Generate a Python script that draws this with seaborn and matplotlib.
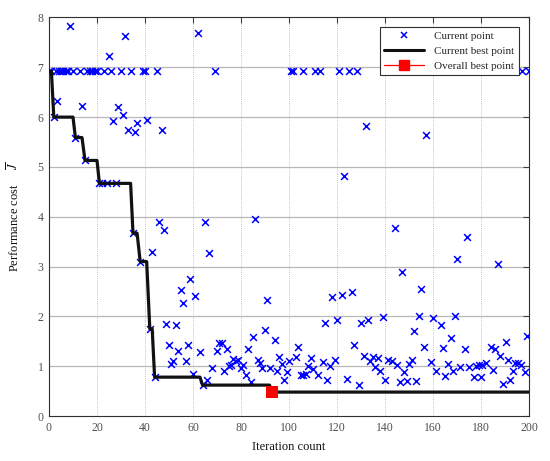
import numpy as np
import pandas as pd
import matplotlib
matplotlib.use("Agg")
import matplotlib.pyplot as plt
from matplotlib.lines import Line2D
import seaborn as sns

# ---- data ----
iteration = [
    0, 1, 2, 3, 3.5, 4, 5, 6, 7, 8, 8.75, 10, 11, 13, 13.75, 15, 16, 17, 18, 19, 20,
    21, 22, 23, 24, 24.8, 26, 26.8, 28, 28.6, 30, 30.7, 31.8, 32.8, 34, 35, 35.8, 36.7,
    38, 39, 40, 40.7, 42, 43, 44, 45, 46, 47, 48,
    48.7, 49.8, 50.9, 51.8, 52.9, 53.8, 55, 55.9, 56.9, 57.8, 58.8, 60, 60.8, 62,
    62.9, 64, 65, 65.9, 66.8, 67.9, 69, 69.9, 70.7, 71.9, 73, 74, 74.8, 75.7, 76.8,
    77.9, 78.9, 80, 81, 82, 83, 84, 85, 85.8, 86.9, 87.9, 88.9, 90, 91, 91.9, 93,
    94, 95, 96, 97, 98, 99, 100, 101, 101.7, 102.9, 103.9, 104.8, 105.8, 106, 107,
    107.9, 109, 110, 111, 112, 113, 114, 115, 116, 117, 117.9, 119.2, 119.9, 121, 122,
    123, 124, 125, 126.1, 127.1, 128.4, 129, 130, 131.1, 132.1, 133, 133.8, 134.8, 136,
    137, 137.9, 139, 140, 141.1, 143, 144.2, 145, 146.2, 146.9, 148.1, 149.1, 150,
    151.1, 152, 153, 154.2, 155, 156.2, 157.1, 159.1, 160, 161.1, 163.2, 164.1, 165.2,
    166.1, 167.3, 168.3, 169.2, 170.2, 171.2, 173.3, 174.2, 175.2, 177.2, 178, 179.1,
    180.2, 180.4, 182.2, 184.2, 185.2, 186, 187.2, 188.1, 189.3, 190.3, 191.3, 192.2,
    193.2, 194.3, 195.6, 196.8, 197, 198.3, 199.2, 200,
]
cost = [
    6.92, 6.92, 6.00, 6.92, 6.32, 6.92, 6.92, 6.92, 6.92, 6.92, 7.82, 6.92, 5.59, 6.92, 6.22, 5.13, 6.92, 6.92, 6.92, 6.92, 6.92,
    4.67, 4.67, 6.92, 4.67, 7.23, 6.92, 5.92, 4.67, 6.21, 6.92, 6.04, 7.62, 5.75, 6.92, 3.67, 5.71, 5.89,
    3.10, 6.92, 6.92, 5.95, 1.75, 3.29, 0.78, 6.92, 3.90, 5.75, 3.74,
    1.85, 1.43, 1.05, 1.10, 1.83, 1.31, 2.53, 2.27, 1.10, 1.43, 2.75, 0.85, 2.41, 7.69,
    1.29, 0.62, 3.89, 0.73, 3.28, 0.97, 6.92, 1.31, 1.47, 1.47, 0.91, 1.34, 1.00, 1.02, 1.14,
    1.11, 1.13, 0.97, 1.02, 0.83, 1.35, 0.68, 1.58, 3.96, 1.13, 1.07, 0.97, 1.72, 2.33, 0.97, 0.48,
    1.53, 0.90, 1.18, 1.05, 0.73, 0.89, 1.10, 6.92, 6.92, 1.19, 1.38, 0.83, 0.82, 6.92, 0.85,
    1.00, 1.16, 0.94, 6.92, 0.82, 6.92, 1.08, 1.86, 0.72, 1.00, 2.39, 1.13, 1.92, 6.92, 2.42,
    4.82, 0.75, 6.92, 2.49, 1.43, 6.92, 0.63, 1.87, 1.20, 5.83, 1.93, 1.11, 1.18, 0.98,
    1.17, 0.90, 1.98, 0.73, 1.13, 1.11, 3.77, 1.03, 0.69, 2.89, 0.88, 0.70, 1.04,
    1.13, 1.71, 0.71, 2.01, 2.55, 1.38, 5.64, 1.09, 1.97, 0.91, 1.83, 1.36, 0.80,
    1.05, 1.57, 0.91, 2.00, 3.16, 0.99, 1.34, 3.60, 0.98, 0.78, 1.00, 1.03,
    0.78, 1.03, 1.07, 1.38, 0.93, 1.35, 3.05, 1.21, 0.65, 1.48, 1.12, 0.72,
    0.90, 1.06, 1.06, 1.02, 6.92, 0.88, 1.60, 6.92,
]
x_ticks = list(range(0, 201, 20))
y_ticks = list(range(0, 9))
legend_labels = ["Current point", "Current best point", "Overall best point"]

df = pd.DataFrame({"iteration": iteration, "cost": cost}).sort_values("iteration", kind="stable")
df["best"] = df["cost"].cummin()
best_row = df.loc[[df["cost"].idxmin()]]

# ---- style ----
sns.set_style("white")
plt.rcParams["font.family"] = ["Liberation Serif", "DejaVu Serif"]
plt.rcParams["mathtext.fontset"] = "stix"

fig = plt.figure(figsize=(5.5, 4.61), dpi=100)
ax = fig.add_axes([49 / 550, 45 / 461, 480 / 550, 398.5 / 461])

# grid
for xv in x_ticks[1:-1]:
    ax.axvline(xv, color="#b0b0b0", lw=0.6, ls=(0, (1, 1.5)), zorder=0)
for yv in y_ticks[1:-1]:
    ax.axhline(yv, color="#b8b8b8", lw=0.9, ls="-", zorder=0)

sns.scatterplot(data=df, x="iteration", y="cost", ax=ax, marker="x", color="#0000ff",
                s=24, linewidth=1.1, zorder=3, legend=False)
sns.lineplot(data=df, x="iteration", y="best", ax=ax, color="#111111", lw=2.3,
             estimator=None, sort=False, zorder=4, legend=False)
sns.scatterplot(data=best_row, x="iteration", y="cost", ax=ax, marker="s", color="#ff0000",
                s=64, linewidth=0, zorder=5, legend=False)

ax.set_xlim(0, 200)
ax.set_ylim(0, 8)
ax.set_xticks(x_ticks)
ax.set_yticks(y_ticks)
ax.tick_params(direction="in", length=4, width=0.8, top=True, right=True,
               labelsize=8.5, labelcolor="#505050", color="#404040", pad=4)
for s in ax.spines.values():
    s.set_color("#303030")
    s.set_linewidth(0.8)

ax.set_xlabel("Iteration count", fontsize=9, color="#111111", labelpad=5)
ax.set_ylabel(r"Performance cost     $\overline{J}$", fontsize=9, color="#111111", labelpad=11)

handles = [
    Line2D([], [], ls="none", marker="x", color="#0000ff", markersize=4.5, mew=1.1),
    Line2D([], [], color="#111111", lw=2.2),
    Line2D([], [], color="#ff0000", lw=0.9, marker="s", markersize=7),
]
leg = ax.legend(handles, legend_labels, loc="upper right",
                bbox_to_anchor=(519 / 550, 1 - 27 / 461), bbox_transform=fig.transFigure,
                borderaxespad=0, fancybox=False, framealpha=1, edgecolor="#303030",
                fontsize=8, handlelength=3.6, handletextpad=0.9, labelspacing=0.45,
                borderpad=0.4)
leg.get_frame().set_linewidth(0.8)
leg.set_zorder(10)

fig.savefig("out.png", dpi=100)
